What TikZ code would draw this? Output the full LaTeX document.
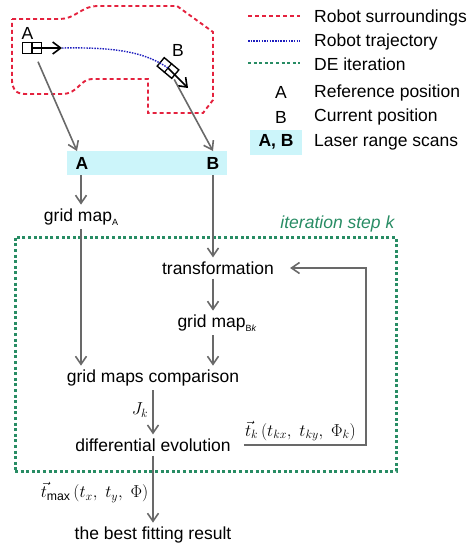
\documentclass[tikz,border=0pt]{standalone}
\definecolor{surroundred}{RGB}{228, 34, 62}
\definecolor{trajblue}{RGB}{30, 30, 190}
\definecolor{itergreen}{RGB}{40, 140, 100}
\definecolor{flowgray}{RGB}{105, 105, 105}
\definecolor{scancyan}{RGB}{204, 245, 250}
\usepackage{fontspec}
\setmainfont{Liberation Sans}
\usepackage{amsmath}
\usepackage{tikz}
\usetikzlibrary{arrows.meta, calc}
\newcommand{\lowsub}[1]{\raisebox{-0.4ex}{\fontsize{9}{9}\selectfont #1}}

\begin{document}
\begin{tikzpicture}[x=1pt, y=-1pt,
  every node/.style={font=\fontsize{17.5}{20}\selectfont, inner sep=4pt},
  flow/.style={draw=flowgray, line width=1.6pt, -{Straight Barb[length=8pt, width=11pt]}},
  robotbox/.style={draw, line width=1.4pt, minimum width=19pt, minimum height=11pt, inner sep=0pt},
  heading/.style={line width=1.6pt, -{Straight Barb[length=8pt, width=12pt]}},
  surround/.style={draw=surroundred, line width=1.9pt, dash pattern=on 4pt off 3pt},
  traj/.style={draw=trajblue, line width=1.4pt, dash pattern=on 1.5pt off 1.2pt},
  iterframe/.style={draw=itergreen, line width=3pt, dash pattern=on 3pt off 2.6pt}]
  \useasboundingbox (0,0) rectangle (474,552);

  % Robot surroundings
  \draw[surround] (12,19) -- (60,19) .. controls (75,19) and (82,6) .. (97,6) -- (177,6)
    -- (213,32) -- (213,100) -- (203,113) -- (148,113) -- (148,79) -- (92,79)
    .. controls (80,79) and (78,94) .. (62,94) -- (25,94) .. controls (15,94) and (12,88) .. (12,80) -- cycle;

  % Robot at A and B
  \node[robotbox] (robotA) at (32,48) {};
  \draw[line width=1.2pt] (robotA.north) -- (robotA.south);
  \node (labelA) at (27.5,33) {A};
  \coordinate (headA) at (62,48);
  \node[robotbox, rotate=-40] (robotB) at (168,68) {};
  \draw[line width=1.2pt] (robotB.north) -- (robotB.south);
  \node (labelB) at (178,50) {B};
  \coordinate (headB) at (188,88);
  \draw[traj] (headA) .. controls (115,47) and (145,52) .. (robotB.center);
  \draw[heading] (robotA.center) -- (headA);
  \draw[heading] (robotB.center) -- (headB);

  % Laser range scans
  \node[fill=scancyan, minimum width=160pt, minimum height=24pt, inner sep=0pt] (scans) at (147,163) {};
  \node (scanA) at (82,163) {\textbf{A}};
  \node (scanB) at (213,163) {\textbf{B}};
  \coordinate (inA) at (77,151);
  \coordinate (inB) at (213,151);
  \draw[flow, shorten <=15pt] (robotA.center) -- (inA);
  \draw[flow, shorten <=13pt] (robotB.center) -- (inB);

  % DE iteration
  \node[iterframe, minimum width=381pt, minimum height=234pt, inner sep=0pt] (iterbox) at (205.5,354) {};
  \node[anchor=south east, inner sep=3pt, text=itergreen, font=\fontsize{17.5}{20}\selectfont\itshape] (iterlabel) at (iterbox.north east) {iteration step k};

  % Flow
  \node (gridA) at (81,217) {grid map\lowsub{A}};
  \node (trans) at (218,268) {transformation};
  \node (gridB) at (217,323) {grid map\lowsub{B\textit{k}}};
  \node (comp) at (153,378) {grid maps comparison};
  \node (de) at (153,445) {differential evolution};
  \node (result) at (153,535) {the best fitting result};
  \coordinate (loopc) at (366,0);

  \draw[flow] (scans.south -| gridA) -- (gridA);
  \draw[flow] (gridA) -- (gridA |- comp.north);
  \draw[flow] (scans.south -| scanB) -- (scanB |- trans.north);
  \draw[flow] (trans.south -| scanB) -- (scanB |- gridB.north);
  \draw[flow] (gridB.south -| scanB) -- (scanB |- comp.north);
  \draw[flow] (comp) -- node[left, pos=0.45] (jk) {$J_k$} (de);
  \draw[flow] (de) -- node[left, pos=0.55] (tmax) {$\vec{t}_{\text{max}}\,(t_x,\ t_y,\ \Phi)$} (result);
  \draw[flow, shorten <=9pt, shorten >=12pt] (de.east) -- (de.east -| loopc)
    node[midway, above, inner sep=3pt] (tk) {$\vec{t}_k\,(t_{kx},\ t_{ky},\ \Phi_k)$} |- (trans.east);

  % Legend
  \draw[surround] (248,16) -- (300,16);
  \draw[traj] (248,41) -- (300,41);
  \draw[iterframe, line width=2.4pt] (248,63) -- (300,63);
  \node[anchor=west] (legsurround) at (310,18) {Robot surroundings};
  \node[anchor=west] (legtraj) at (310,42) {Robot trajectory};
  \node[anchor=west] (legiter) at (310,64) {DE iteration};
  \node (legA) at (281,92) {A};
  \node[anchor=west] (legref) at (310,93) {Reference position};
  \node (legB) at (281,117) {B};
  \node[anchor=west] (legcur) at (310,117) {Current position};
  \node[fill=scancyan, minimum width=52pt, minimum height=25pt, inner sep=0pt] (legscan) at (276,142) {\textbf{A, B}};
  \node[anchor=west] (leglaser) at (310,142) {Laser range scans};
\end{tikzpicture}
\end{document}
